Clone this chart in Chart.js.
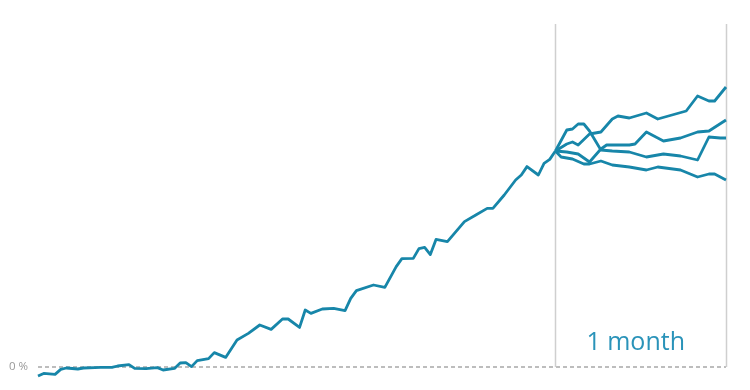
<!DOCTYPE html>
<html>
<head>
<meta charset="utf-8">
<script src="https://cdn.jsdelivr.net/npm/chart.js@4"></script>
<style>
  html, body { margin: 0; padding: 0; background: #fff; overflow: hidden; }
  canvas { display: block; }
</style>
</head>
<body>
<canvas id="chart" width="750" height="390"></canvas>
<script>
// history (days from start) and value
const mainDays = [0,1,3,4,5,7,8,10,11,13,14,16,17,19,21,22,24,25,26,27,28,30,31,33,35,37,39,41,43,44,46,47,48,50,52,54,55,56,59,61,63,64,66,67,68,69,70,72,75,77,79,80,82,84,85,86,88,89,90,91];
const mainValues = [-4.5,-3.2,-3.7,-1.2,-0.5,-1,-0.5,-0.3,-0.2,-0.2,0.5,1.2,-0.7,-0.8,-0.3,-1.5,-0.7,2,2.2,0.2,3.2,4.2,7.2,4.8,13.5,16.8,21,18.8,24,24,19.8,28.5,26.8,29,29.3,28.2,34.3,38.2,41,39.8,50.2,54.2,54.3,59.2,59.8,56.2,63.8,62.7,72.7,76,79.3,79.3,86,93.5,96,100.2,96,101.8,103.8,108];

// four one-month scenarios
const f1Days = [91,93,94,95,96,97,99,101,104,107,110,113,116,118,120,121];
const f1Values = [108,118.5,119,121.5,121.5,118,108.5,108,107.5,105,106.5,105.5,103.5,115,114.5,114.5];
const f2Days = [91,93,94,95,97,99,101,102,104,107,109,114,116,118,119,121];
const f2Values = [108,111.5,112.5,111,116.5,117.5,124,125.5,124.5,127,124,128,135.5,133,133,140];
const f3Days = [91,93,95,97,99,100,104,105,107,110,113,116,118,121];
const f3Values = [108,107.5,106.5,102.5,109,111,111,111.5,117.5,113,114.5,117.5,118,123.5];
const f4Days = [91,92,94,96,97,99,101,104,107,109,113,116,118,119,121];
const f4Values = [108,105,104,101.5,101.5,103,101,100,98.5,100,98.5,95,96.5,96.5,93.5];

const forecastStart = 91;
const forecastEnd = 121;
const forecastLabel = '1 month';
const zeroLabel = '0 %';

const lineColor = '#1786a9';

function pts(days, values) {
    return days.map((d, i) => ({ x: d, y: values[i] }));
}

const monthPlugin = {
    id: 'month',
    beforeDatasetsDraw(chart) {
        const ctx = chart.ctx, x = chart.scales.x, y = chart.scales.y;
        const area = chart.chartArea;
        const zero = Math.round(y.getPixelForValue(0));
        ctx.save();
        // dashed zero line + label
        ctx.strokeStyle = '#a8a8a8';
        ctx.lineWidth = 1.5;
        ctx.setLineDash([4, 3]);
        ctx.beginPath();
        ctx.moveTo(area.left, zero);
        ctx.lineTo(area.right, zero);
        ctx.stroke();
        ctx.setLineDash([]);
        ctx.fillStyle = '#999';
        ctx.font = "11.5px 'Open Sans'";
        ctx.textAlign = 'right';
        ctx.textBaseline = 'middle';
        ctx.fillText(zeroLabel, area.left - 10, zero);
        // month bounds
        ctx.strokeStyle = '#cfcfcf';
        [forecastStart, forecastEnd].forEach(v => {
            const px = Math.round(x.getPixelForValue(v)) + 0.5;
            ctx.beginPath();
            ctx.moveTo(px, area.top);
            ctx.lineTo(px, zero);
            ctx.stroke();
        });
        ctx.fillStyle = '#2a93b9';
        ctx.font = "25px 'Open Sans'";
        ctx.textAlign = 'center';
        ctx.textBaseline = 'alphabetic';
        const cx = (x.getPixelForValue(forecastStart) + x.getPixelForValue(forecastEnd)) / 2;
        ctx.fillText(forecastLabel, cx - 5, zero - 17);
        ctx.restore();
    }
};

const ds = (data) => ({
    data: data,
    borderColor: lineColor,
    borderWidth: 2.8,
    pointRadius: 0,
    tension: 0,
    fill: false,
    borderJoinStyle: 'round',
    clip: false
});

new Chart(document.getElementById('chart'), {
    type: 'line',
    data: {
        datasets: [
            ds(pts(mainDays, mainValues)),
            ds(pts(f1Days, f1Values)),
            ds(pts(f2Days, f2Values)),
            ds(pts(f3Days, f3Values)),
            ds(pts(f4Days, f4Values))
        ]
    },
    options: {
        responsive: false,
        animation: false,
        layout: { padding: { left: 38, right: 24, top: 24, bottom: 5 } },
        plugins: { legend: { display: false }, tooltip: { enabled: false } },
        scales: {
            x: { type: 'linear', min: 0, max: forecastEnd, display: false },
            y: { type: 'linear', min: -9, max: 171.5, display: false }
        }
    },
    plugins: [monthPlugin]
});
</script>
</body>
</html>
